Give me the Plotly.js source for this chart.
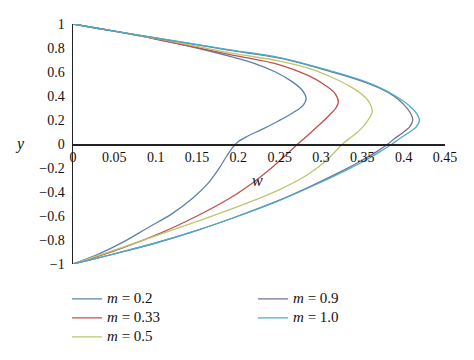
<!DOCTYPE html>
<html>
<head>
<meta charset="utf-8">
<script src="https://cdn.plot.ly/plotly-3.0.1.min.js"></script>
<style>html,body{margin:0;padding:0;background:#fff;}#chart{width:474px;height:360px;}</style>
</head>
<body>
<div id="chart"></div>
<script>
// m = 0.2
const w_m02 = [0, 0.05, 0.1, 0.15, 0.19, 0.22, 0.245, 0.265, 0.277, 0.282, 0.278, 0.266, 0.248, 0.228, 0.211, 0.2, 0.193, 0.186, 0.176, 0.163, 0.145, 0.12, 0.09, 0.06, 0.03, 0];
const y_m02 = [1, 0.94, 0.875, 0.8, 0.73, 0.67, 0.6, 0.52, 0.45, 0.38, 0.32, 0.26, 0.19, 0.12, 0.065, 0.02, -0.03, -0.1, -0.21, -0.33, -0.45, -0.58, -0.7, -0.82, -0.92, -1];
// m = 0.33
const w_m033 = [0, 0.05, 0.1, 0.19, 0.25, 0.285, 0.305, 0.317, 0.321, 0.318, 0.31, 0.298, 0.285, 0.272, 0.258, 0.24, 0.218, 0.19, 0.15, 0.1, 0.05, 0];
const y_m033 = [1, 0.94, 0.875, 0.745, 0.66, 0.57, 0.49, 0.42, 0.35, 0.3, 0.24, 0.16, 0.08, 0, -0.09, -0.2, -0.32, -0.45, -0.6, -0.76, -0.89, -1];
// m = 0.5
const w_m05 = [0, 0.05, 0.1, 0.19, 0.25, 0.29, 0.315, 0.335, 0.35, 0.359, 0.362, 0.357, 0.349, 0.338, 0.326, 0.317, 0.306, 0.285, 0.25, 0.2, 0.15, 0.1, 0.05, 0];
const y_m05 = [1, 0.94, 0.88, 0.76, 0.69, 0.62, 0.55, 0.48, 0.41, 0.34, 0.27, 0.2, 0.13, 0.065, 0, -0.065, -0.14, -0.25, -0.38, -0.52, -0.645, -0.765, -0.885, -1];
// m = 0.9
const w_m09 = [0, 0.05, 0.1, 0.19, 0.25, 0.311, 0.345, 0.371, 0.388, 0.4, 0.408, 0.411, 0.407, 0.398, 0.388, 0.381, 0.366, 0.346, 0.327, 0.288, 0.249, 0.2, 0.15, 0.1, 0.05, 0];
const y_m09 = [1, 0.94, 0.885, 0.78, 0.715, 0.605, 0.535, 0.465, 0.4, 0.33, 0.26, 0.2, 0.14, 0.09, 0.04, 0, -0.07, -0.15, -0.22, -0.35, -0.47, -0.6, -0.72, -0.825, -0.915, -1];
// m = 1.0
const w_m10 = [0, 0.05, 0.1, 0.19, 0.25, 0.311, 0.345, 0.371, 0.39, 0.405, 0.415, 0.419, 0.415, 0.405, 0.394, 0.386, 0.37, 0.35, 0.33, 0.29, 0.25, 0.2, 0.15, 0.1, 0.05, 0];
const y_m10 = [1, 0.94, 0.885, 0.785, 0.72, 0.61, 0.54, 0.47, 0.4, 0.33, 0.26, 0.2, 0.14, 0.09, 0.04, 0, -0.07, -0.15, -0.22, -0.35, -0.47, -0.6, -0.72, -0.825, -0.915, -1];

const seriesLabels = ['0.2', '0.33', '0.5', '0.9', '1.0'];
const seriesColors = ['#5b80aa', '#c0504d', '#bcc66e', '#74708f', '#4bacc6'];
const xTickVals = [0, 0.05, 0.1, 0.15, 0.2, 0.25, 0.3, 0.35, 0.4, 0.45];
const yTickVals = [-1, -0.8, -0.6, -0.4, -0.2, 0, 0.2, 0.4, 0.6, 0.8, 1];

const W = [w_m02, w_m033, w_m05, w_m09, w_m10];
const Y = [y_m02, y_m033, y_m05, y_m09, y_m10];
const legends = ['legend', 'legend', 'legend', 'legend2', 'legend2'];

const traces = W.map((w, i) => ({
  x: w, y: Y[i], type: 'scatter', mode: 'lines',
  name: '<span style="font-size:15px"><i>m</i> = ' + seriesLabels[i] + '</span>',
  line: {color: seriesColors[i], width: 1.3, shape: 'spline', smoothing: 1},
  legend: legends[i]
}));

const fam = '"Liberation Serif", "DejaVu Serif", serif';
const font = {family: fam, size: 14, color: '#111'};

const layout = {
  width: 474, height: 360,
  margin: {l: 73, r: 29, t: 24, b: 96},
  paper_bgcolor: '#fff', plot_bgcolor: '#fff',
  font: font,
  showlegend: true,
  xaxis: {
    range: [0, 0.45], tickvals: xTickVals, showgrid: false, zeroline: false,
    showline: true, linecolor: '#222', linewidth: 1.5,
    anchor: 'free', position: 0.5, ticks: '', tickfont: font, ticklabelstandoff: 0
  },
  yaxis: {
    range: [-1, 1], tickvals: yTickVals, showgrid: false, zeroline: false,
    showline: true, linecolor: '#222', linewidth: 1.5,
    ticks: '', tickfont: font, ticklabelstandoff: 4
  },
  legend: {
    x: -0.016, xanchor: 'left', yref: 'container', y: 0.21, yanchor: 'top',
    font: {family: fam, size: 11, color: '#111'},
    bgcolor: 'rgba(0,0,0,0)'
  },
  legend2: {
    x: 0.484, xanchor: 'left', yref: 'container', y: 0.21, yanchor: 'top',
    font: {family: fam, size: 11, color: '#111'},
    bgcolor: 'rgba(0,0,0,0)'
  },
  annotations: [
    {text: '<i>y</i>', xref: 'paper', yref: 'y', x: -0.16, y: 0, showarrow: false,
     font: {family: fam, size: 16, color: '#111'}},
    {text: '<i>w</i>', xref: 'x', yref: 'y', x: 0.2226, y: -0.3, showarrow: false,
     font: {family: fam, size: 16, color: '#111'}}
  ]
};

Plotly.newPlot('chart', traces, layout, {displayModeBar: false, staticPlot: true});
</script>
</body>
</html>
